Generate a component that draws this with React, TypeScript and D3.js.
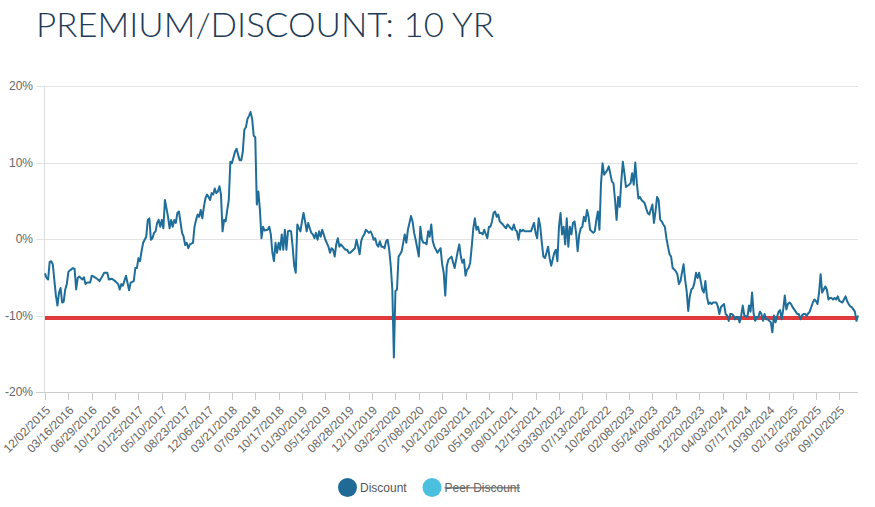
import React, { useEffect, useRef } from 'react';
import * as d3 from 'd3';

const title = 'PREMIUM/DISCOUNT: 10 YR';
const yTicks = [20, 10, 0, -10, -20];
const tickLabels = [
  '12/02/2015', '03/16/2016', '06/29/2016', '10/12/2016', '01/25/2017', '05/10/2017',
  '08/23/2017', '12/06/2017', '03/21/2018', '07/03/2018', '10/17/2018', '01/30/2019',
  '05/15/2019', '08/28/2019', '12/11/2019', '03/25/2020', '07/08/2020', '10/21/2020',
  '02/03/2021', '05/19/2021', '09/01/2021', '12/15/2021', '03/30/2022', '07/13/2022',
  '10/26/2022', '02/08/2023', '05/24/2023', '09/06/2023', '12/20/2023', '04/03/2024',
  '07/17/2024', '10/30/2024', '02/12/2025', '05/28/2025', '09/10/2025',
];
const labelStep = 15; // a date label every 15 weekly points
const lastWeek = 522;
const averageDiscount = -10.33;
const seriesNames = ['Discount', 'Peer Discount'];

// [week index since 12/02/2015, premium/discount %]
const discount: [number, number][] = [
  [0, -4.5], [1, -5.1], [2, -5.3], [3, -3.0], [4, -2.9], [5, -3.3], [7, -7.4], [8, -8.7], [9, -7.0], [10, -6.4],
  [11, -8.3], [12, -8.2], [13, -6.6], [14, -5.9], [15, -4.3], [16, -4.1], [18, -3.8], [19, -3.9], [20, -6.6], [21, -5.1],
  [22, -4.9], [24, -5.3], [25, -5.0], [26, -5.9], [27, -5.7], [29, -5.7], [30, -4.8], [32, -5.0], [34, -5.3], [35, -5.5],
  [37, -4.8], [38, -4.4], [40, -4.4], [41, -5.3], [43, -5.2], [45, -5.5], [47, -5.9], [48, -6.6], [49, -5.9], [50, -6.1],
  [52, -4.8], [54, -6.7], [55, -5.7], [57, -5.5], [58, -3.8], [59, -3.8], [60, -2.5], [61, -2.9], [62, -1.6], [63, -0.5],
  [65, 0.3], [66, 2.5], [67, 2.7], [68, -0.1], [69, 0.1], [70, 0.8], [71, 1.0], [72, 2.1], [73, 2.5], [74, 1.6],
  [75, 2.5], [76, 1.4], [77, 5.1], [78, 4.0], [79, 2.9], [80, 1.4], [81, 2.5], [82, 1.6], [83, 2.5], [84, 2.1],
  [85, 3.4], [86, 3.6], [88, 0.8], [89, 0.3], [90, -0.8], [91, -0.5], [92, -1.2], [93, -0.7], [95, -0.5], [96, 1.6],
  [97, 2.5], [98, 3.2], [99, 2.9], [100, 3.8], [101, 2.7], [102, 4.2], [103, 5.3], [104, 5.8], [105, 5.5], [106, 5.1],
  [107, 6.0], [108, 5.8], [109, 6.6], [110, 6.0], [111, 6.2], [112, 6.9], [113, 5.8], [114, 1.0], [115, 2.5], [116, 2.3],
  [117, 3.8], [118, 5.1], [119, 10.1], [120, 9.9], [122, 11.4], [123, 11.8], [124, 11.0], [125, 10.3], [126, 10.3], [127, 11.4],
  [128, 14.3], [129, 14.6], [130, 15.7], [131, 16.1], [132, 16.6], [133, 15.7], [134, 13.5], [135, 13.3], [136, 4.5], [137, 6.2],
  [138, 3.8], [139, 0.1], [140, 1.6], [141, 1.1], [143, 1.2], [144, 1.6], [145, 0.6], [146, -1.8], [147, -2.9], [148, -0.5],
  [149, -1.8], [150, -0.5], [151, -1.4], [152, 0.6], [153, -1.4], [154, 1.2], [155, -1.4], [156, 1.0], [157, 1.1], [158, 1.0],
  [159, -1.0], [160, -3.5], [161, -4.4], [162, 1.9], [163, 1.4], [164, 1.0], [165, 2.3], [166, 3.4], [167, 2.3], [168, 1.0],
  [169, 2.1], [170, 1.4], [171, 0.8], [172, 0.6], [173, 0.1], [174, 0.8], [175, -0.1], [176, 1.0], [177, 0.3], [178, 1.2],
  [179, 0.6], [180, -0.1], [182, -1.0], [183, -1.8], [184, -1.2], [185, -1.4], [186, -2.3], [187, -0.7], [188, 0.1], [189, -1.0],
  [190, -0.7], [192, -1.2], [193, -1.4], [194, -1.4], [195, -1.8], [196, -1.8], [197, -1.6], [198, -1.4], [199, -1.2], [200, -0.1],
  [201, -1.0], [202, -2.0], [203, -0.3], [204, 0.3], [205, 0.6], [206, 1.2], [208, 0.8], [209, 1.0], [210, 0.6], [211, -0.1],
  [212, 0.1], [213, -0.7], [214, -1.0], [215, -0.3], [216, -1.0], [217, -1.0], [218, -1.2], [219, -0.3], [220, -0.1], [221, -1.4],
  [222, -3.5], [223, -6.6], [224, -15.5], [225, -6.8], [226, -6.6], [227, -2.3], [228, -2.0], [229, -1.6], [230, -0.5], [231, 0.6],
  [232, -0.5], [233, 1.2], [234, 2.1], [235, 3.0], [236, 2.3], [237, 0.8], [238, -0.1], [240, -2.3], [241, 1.6], [242, -0.1],
  [243, -0.5], [244, -0.5], [245, -0.7], [246, 1.0], [247, 0.3], [248, 1.9], [249, -0.3], [250, -1.0], [251, -1.4], [252, -1.8],
  [254, -1.2], [255, -3.3], [256, -4.4], [257, -7.4], [258, -3.5], [259, -2.7], [260, -2.5], [261, -2.3], [263, -3.8], [264, -2.7],
  [265, -1.6], [266, -0.7], [267, -2.3], [268, -3.1], [269, -2.7], [270, -4.8], [271, -4.0], [272, -3.8], [273, -3.1], [274, -1.0],
  [275, 1.4], [276, 2.7], [277, 1.2], [278, 1.6], [279, 0.8], [280, 0.8], [281, 0.6], [282, 1.2], [284, 0.1], [285, 1.6],
  [286, 1.6], [287, 2.3], [288, 3.4], [289, 3.6], [290, 2.9], [291, 3.2], [292, 2.3], [293, 2.1], [294, 1.9], [295, 1.6],
  [296, 1.4], [297, 1.9], [299, 1.4], [300, 1.2], [301, 1.9], [302, 1.2], [303, 1.0], [304, -0.1], [305, 1.2], [306, 1.0],
  [307, 1.2], [308, 1.0], [309, 1.0], [310, 1.0], [311, 1.0], [312, 1.0], [314, 2.1], [315, 0.8], [316, 0.1], [317, 2.7],
  [318, 1.6], [319, -0.5], [320, -2.3], [321, -2.5], [322, -1.8], [323, -1.0], [324, -2.5], [325, -3.5], [327, -1.8], [328, -1.4],
  [329, -2.9], [330, 1.6], [331, 3.4], [332, 0.6], [333, 1.6], [334, -0.7], [335, 2.7], [336, -1.0], [337, 1.6], [338, 0.6],
  [339, 2.1], [340, 2.3], [341, 0.8], [342, -1.6], [343, 0.6], [344, 1.4], [345, 1.6], [346, 2.9], [347, 2.3], [348, 3.8],
  [349, 2.9], [350, 1.2], [352, 0.8], [353, 1.0], [354, 2.5], [355, 3.6], [356, 1.2], [357, 7.3], [358, 9.9], [359, 8.4],
  [360, 8.7], [361, 9.0], [362, 9.5], [364, 7.5], [365, 7.3], [366, 5.1], [367, 2.5], [368, 5.5], [369, 4.2], [370, 7.5],
  [371, 10.1], [372, 8.6], [373, 6.8], [375, 7.1], [376, 7.3], [377, 8.6], [378, 7.1], [379, 10.0], [380, 7.3], [381, 5.3],
  [382, 5.5], [383, 5.1], [384, 4.9], [385, 4.7], [386, 4.0], [387, 3.4], [388, 3.2], [390, 4.5], [391, 2.1], [392, 3.6],
  [393, 5.5], [394, 5.1], [395, 2.5], [396, 2.3], [397, 1.9], [398, 1.6], [399, 0.1], [400, -1.0], [401, -2.0], [402, -2.3],
  [403, -3.8], [405, -4.2], [406, -4.6], [407, -5.9], [408, -5.5], [409, -4.4], [410, -3.3], [411, -5.3], [412, -6.8], [413, -9.4],
  [414, -7.5], [415, -6.6], [416, -6.4], [417, -5.7], [418, -4.4], [419, -5.1], [420, -4.4], [421, -5.5], [422, -6.6], [423, -7.0],
  [424, -5.5], [425, -7.5], [426, -8.5], [427, -8.3], [428, -8.5], [429, -8.3], [430, -8.3], [431, -8.3], [432, -8.8], [433, -9.8],
  [434, -8.9], [436, -8.5], [437, -9.8], [438, -10.0], [439, -10.7], [440, -9.8], [441, -9.8], [442, -10.0], [443, -10.5], [444, -10.2],
  [445, -10.2], [446, -10.9], [447, -10.0], [448, -8.7], [449, -10.0], [451, -10.2], [452, -8.7], [453, -9.5], [454, -7.0], [455, -9.8],
  [456, -10.7], [457, -10.2], [458, -10.2], [459, -9.5], [460, -9.8], [461, -10.7], [462, -9.8], [463, -10.5], [464, -10.5], [466, -10.9],
  [467, -12.2], [468, -10.0], [469, -10.9], [470, -10.2], [471, -9.5], [472, -9.3], [473, -10.5], [474, -9.2], [475, -7.4], [476, -9.2],
  [477, -8.5], [478, -8.3], [479, -8.5], [480, -8.9], [481, -9.2], [482, -9.5], [483, -9.8], [484, -9.8], [485, -10.5], [486, -10.0],
  [487, -9.8], [488, -9.8], [489, -10.0], [491, -9.5], [492, -8.9], [493, -8.3], [494, -7.9], [495, -8.1], [496, -8.5], [497, -7.0],
  [498, -4.6], [499, -7.0], [500, -6.6], [501, -6.2], [502, -6.6], [503, -7.9], [504, -7.7], [505, -7.7], [506, -7.9], [507, -7.7],
  [508, -7.9], [509, -7.5], [510, -8.1], [512, -8.3], [513, -7.9], [514, -7.5], [515, -8.1], [516, -8.5], [517, -8.8], [518, -8.9],
  [519, -9.2], [520, -9.5], [521, -10.7], [522, -10.0],
];

const font = '"Liberation Sans", Arial, sans-serif';

export default function App() {
  const ref = useRef<SVGSVGElement>(null);

  useEffect(() => {
    const svg = d3.select(ref.current);
    svg.selectAll('*').remove();

    const width = 875;
    const height = 507;
    const margin = { top: 86, right: 17, bottom: 115, left: 45 };
    const innerRight = width - margin.right;
    const innerBottom = height - margin.bottom;

    const x = d3.scaleLinear().domain([0, lastWeek]).range([margin.left, innerRight]);
    const y = d3.scaleLinear().domain([-20, 20]).range([innerBottom, margin.top]);
    const crisp = (v: number) => Math.round(v) + 0.5;

    svg.append('text')
      .attr('x', 36)
      .attr('y', 37)
      .attr('font-family', 'Lato, "Open Sans", sans-serif')
      .attr('font-weight', 300)
      .attr('font-size', 33)
      .attr('fill', '#1d3a57')
      .attr('textLength', 458)
      .attr('lengthAdjust', 'spacingAndGlyphs')
      .text(title);

    // horizontal grid + y labels
    const gy = svg.append('g');
    gy.selectAll('line')
      .data(yTicks)
      .enter()
      .append('line')
      .attr('x1', 36)
      .attr('x2', innerRight)
      .attr('y1', d => crisp(y(d)))
      .attr('y2', d => crisp(y(d)))
      .attr('stroke', d => (d === -20 ? '#cccccc' : '#e3e3e3'))
      .attr('stroke-width', 1);
    gy.selectAll('text')
      .data(yTicks)
      .enter()
      .append('text')
      .attr('x', 33)
      .attr('y', d => y(d) + 4)
      .attr('text-anchor', 'end')
      .attr('font-family', font)
      .attr('font-size', 12)
      .attr('fill', '#666666')
      .text(d => `${d}%`);

    svg.append('line')
      .attr('x1', crisp(margin.left) - 1)
      .attr('x2', crisp(margin.left) - 1)
      .attr('y1', margin.top)
      .attr('y2', innerBottom)
      .attr('stroke', '#dddddd');

    // x axis ticks + rotated date labels
    const gx = svg.append('g');
    const tickWeeks = tickLabels.map((_, i) => i * labelStep);
    gx.selectAll('line')
      .data(tickWeeks)
      .enter()
      .append('line')
      .attr('x1', d => crisp(x(d)))
      .attr('x2', d => crisp(x(d)))
      .attr('y1', innerBottom)
      .attr('y2', innerBottom + 8)
      .attr('stroke', '#cccccc');
    gx.selectAll('text')
      .data(tickLabels)
      .enter()
      .append('text')
      .attr('transform', (_, i) => `translate(${x(tickWeeks[i]) + 6},${innerBottom + 19}) rotate(-45)`)
      .attr('text-anchor', 'end')
      .attr('font-family', font)
      .attr('font-size', 12)
      .attr('fill', '#666666')
      .text(d => d);

    // average discount line
    svg.append('line')
      .attr('x1', margin.left)
      .attr('x2', innerRight)
      .attr('y1', y(averageDiscount))
      .attr('y2', y(averageDiscount))
      .attr('stroke', '#e03a3d')
      .attr('stroke-width', 4);

    const line = d3.line<[number, number]>()
      .x(d => x(d[0]))
      .y(d => y(d[1]));

    svg.append('path')
      .datum(discount)
      .attr('d', line)
      .attr('fill', 'none')
      .attr('stroke', '#1f6e9a')
      .attr('stroke-width', 2)
      .attr('stroke-linejoin', 'round');

    // legend
    const legendColors = ['#1f6b96', '#4bbfde'];
    const legendX = [347.5, 432];
    const lg = svg.append('g');
    seriesNames.forEach((name, i) => {
      lg.append('circle')
        .attr('cx', legendX[i])
        .attr('cy', 487.5)
        .attr('r', 9.5)
        .attr('fill', legendColors[i]);
      lg.append('text')
        .attr('x', legendX[i] + 12.5)
        .attr('y', 491.5)
        .attr('font-family', font)
        .attr('font-size', 12)
        .attr('fill', i === 0 ? '#555555' : '#666666')
        .attr('text-decoration', i === 0 ? null : 'line-through')
        .text(name);
    });
  }, []);

  return (
    <svg
      ref={ref}
      width={875}
      height={507}
      style={{ position: 'absolute', left: 0, top: 0, background: '#ffffff' }}
    />
  );
}
